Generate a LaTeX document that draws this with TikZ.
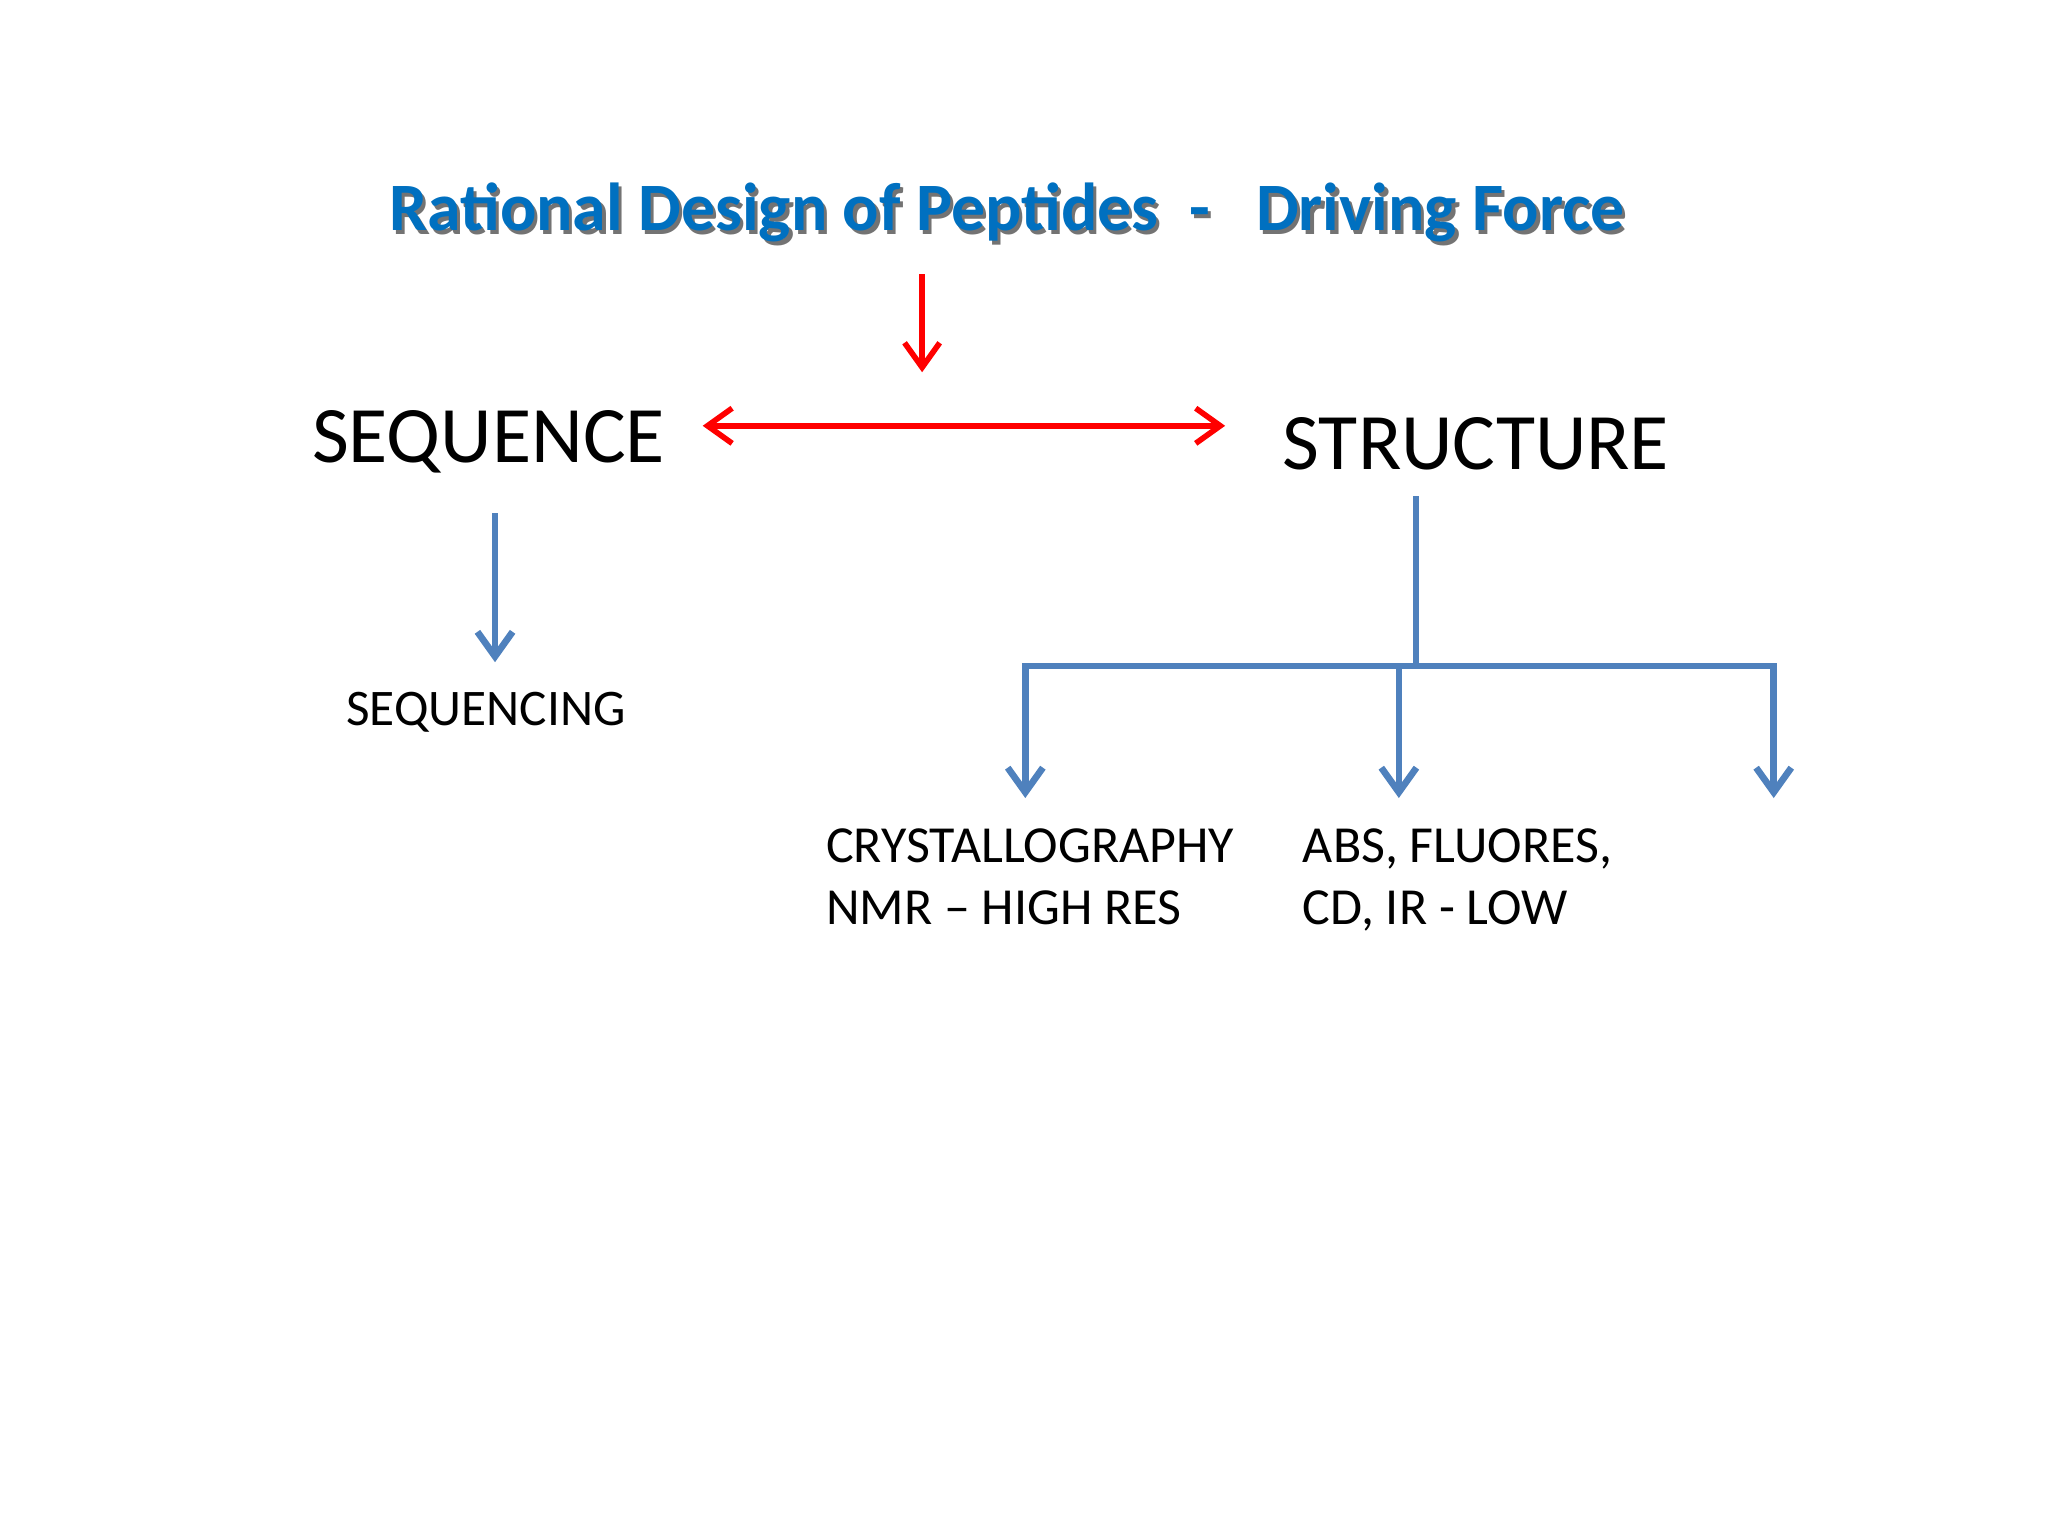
\documentclass[tikz,border=0pt]{standalone}
\usepackage{fontspec}
\setmainfont{Carlito}
\usetikzlibrary{arrows.meta}
\definecolor{tblue}{RGB}{0,112,192}
\definecolor{lblue}{RGB}{79,129,189}
\definecolor{rred}{RGB}{255,0,0}
\tikzset{
 rtip/.tip={Straight Barb[length=7pt,width=10pt,line width=1.6pt]},
 btip/.tip={Straight Barb[length=7pt,width=10pt,line width=1.9pt]},
 redarr/.style={draw=rred,line width=1.6pt,-rtip},
 bluearr/.style={draw=lblue,line width=1.9pt,-btip},
 blueline/.style={draw=lblue,line width=1.9pt},
 lbl/.style={inner sep=0pt,text=black}
}
\begin{document}
\begin{tikzpicture}[x=0.01306cm,y=-0.01306cm]
\useasboundingbox (0,0) rectangle (1568,1176);
\fill[white] (0,0) rectangle (1568,1176);
\node[lbl,text=black!55,font=\fontsize{19.3}{23}\selectfont\bfseries] at (773.5,165.5) {Rational Design of Peptides \ -\ \ \ Driving Force};
\node[lbl,text=tblue,font=\fontsize{19.3}{23}\selectfont\bfseries] (title) at (771,163) {Rational Design of Peptides \ -\ \ \ Driving Force};
\node[lbl,font=\fontsize{22.8}{27}\selectfont] (seq) at (374,338) {SEQUENCE};
\node[lbl,font=\fontsize{22.8}{27}\selectfont] (str) at (1130,340) {STRUCTURE};
\node[lbl,font=\fontsize{14.6}{17}\selectfont] (sqg) at (372,545) {SEQUENCING};
\node[lbl,anchor=north west,align=left,font=\fontsize{14.8}{17.5}\selectfont] (cry) at (632,634) {CRYSTALLOGRAPHY\\NMR – HIGH RES};
\node[lbl,anchor=north west,align=left,font=\fontsize{14.8}{17.5}\selectfont] (abs) at (997,634) {ABS, FLUORES,\\CD, IR - LOW};
\coordinate (r1) at (706,210); \coordinate (r2) at (706,285);
\coordinate (dl) at (538,326); \coordinate (dr) at (938,326);
\coordinate (s1) at (379,393); \coordinate (s2) at (379,507);
\coordinate (t1) at (1084,380); \coordinate (t2) at (1084,510);
\coordinate (hl) at (785,510); \coordinate (hm) at (1071,510); \coordinate (hr) at (1358,510);
\coordinate (al) at (785,611); \coordinate (am) at (1071,611); \coordinate (ar) at (1358,611);
\draw[redarr] (r1) -- (r2);
\draw[draw=rred,line width=1.6pt,rtip-rtip] (dl) -- (dr);
\draw[bluearr] (s1) -- (s2);
\draw[blueline] (t1) -- (t2);
\draw[blueline] ([xshift=-1pt]hl) -- ([xshift=1pt]hr);
\draw[bluearr] (hl) -- (al);
\draw[bluearr] (hm) -- (am);
\draw[bluearr] (hr) -- (ar);
\end{tikzpicture}
\end{document}
